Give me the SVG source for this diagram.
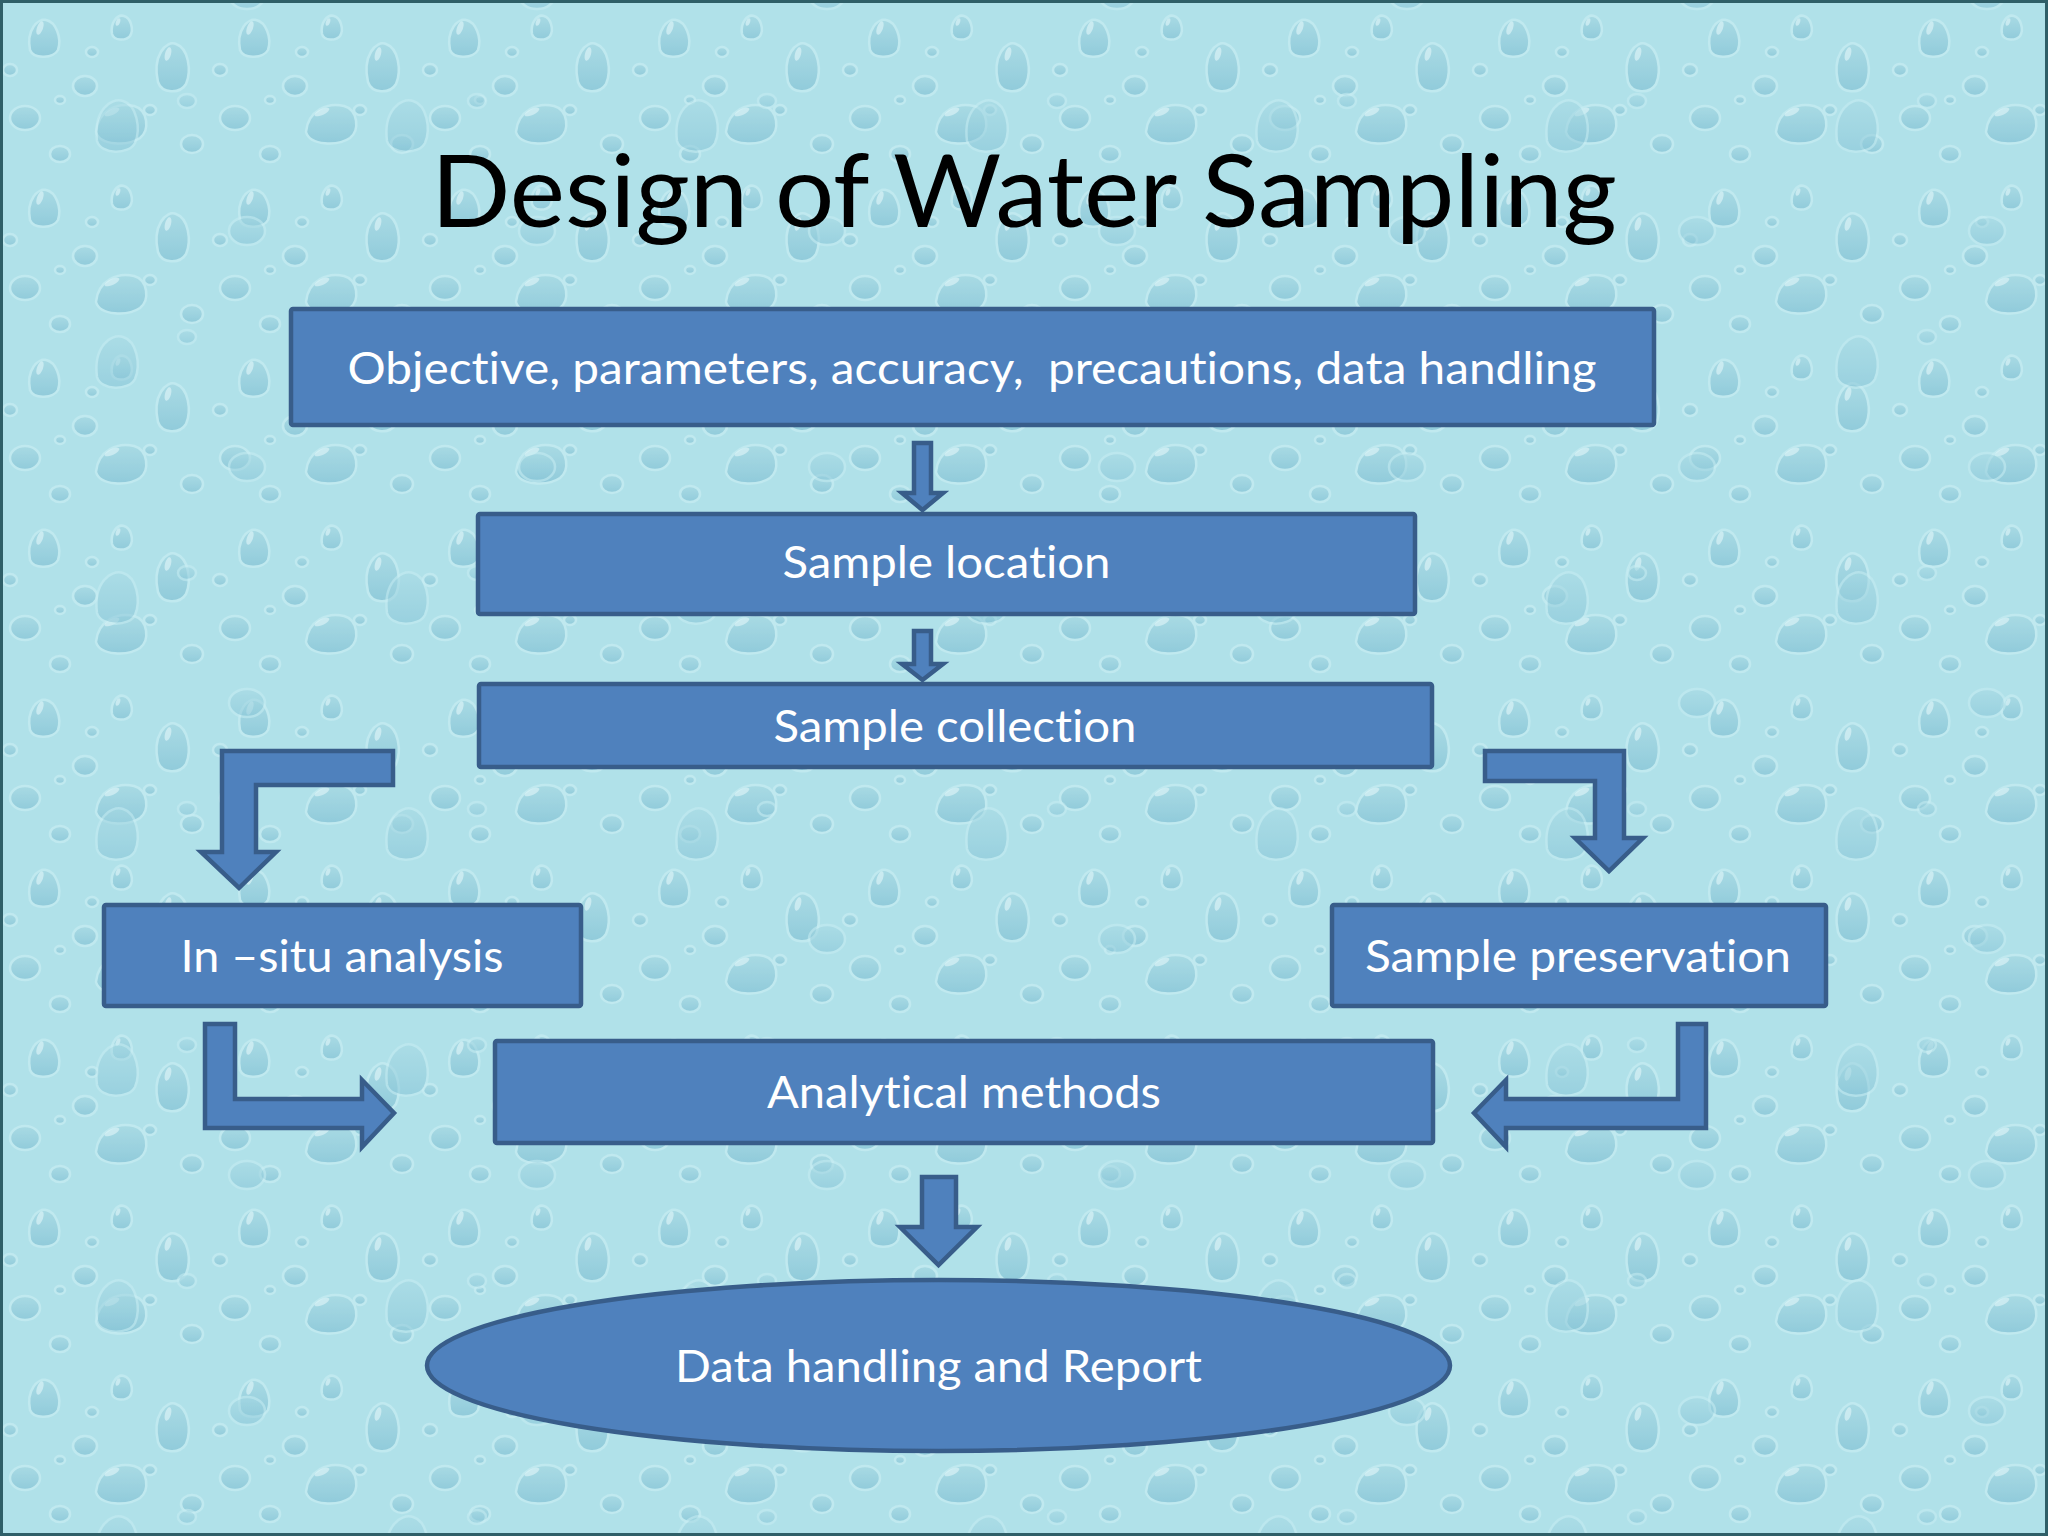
<svg xmlns="http://www.w3.org/2000/svg" width="2048" height="1536" viewBox="0 0 2048 1536">
  <style>
    .box { fill: #4f81bd; stroke: #385d8a; stroke-width: 4.5; }
    .arrow { fill: #4f81bd; stroke: #385d8a; stroke-width: 4.5; stroke-linejoin: miter; }
    .label { font-family: Lato, "Open Sans", "Liberation Sans", sans-serif; font-size: 45px; fill: #ffffff; text-anchor: middle; white-space: pre; font-variant-ligatures: none; }
    .title { font-family: Lato, "Open Sans", "Liberation Sans", sans-serif; font-size: 100px; fill: #000000; text-anchor: middle; font-variant-ligatures: none; }
  </style>
  <defs>
    <linearGradient id="dropGrad" x1="0" y1="0" x2="0" y2="1">
      <stop offset="0" stop-color="#a6d9e3"/>
      <stop offset="0.6" stop-color="#94cddc"/>
      <stop offset="1" stop-color="#86c4d6"/>
    </linearGradient>
    <pattern id="drops" x="0" y="0" width="210" height="170" patternUnits="userSpaceOnUse">
      <rect width="210" height="170" fill="#b0e1e9"/>
      <g fill="url(#dropGrad)" stroke="#c6ecf2" stroke-width="2.5" opacity="0.75">
        <path d="M30,50 C26,30 38,18 46,20 C56,22 62,38 58,50 C54,58 34,60 30,50 Z"/>
        <path d="M112,34 C110,22 118,14 124,16 C131,18 134,30 130,36 C126,41 114,41 112,34 Z"/>
        <path d="M158,82 C152,56 166,40 176,44 C188,48 192,70 186,84 C180,94 162,94 158,82 Z"/>
        <ellipse cx="85" cy="86" rx="12" ry="10"/>
        <ellipse cx="25" cy="118" rx="15" ry="12"/>
        <path d="M96,132 C98,110 118,102 134,106 C148,110 150,130 140,138 C128,146 100,146 96,132 Z"/>
        <ellipse cx="192" cy="144" rx="11" ry="9"/>
        <ellipse cx="60" cy="154" rx="10" ry="8"/>
        <ellipse cx="150" cy="110" rx="6" ry="5"/>
        <ellipse cx="10" cy="70" rx="7" ry="6"/>
        <ellipse cx="92" cy="52" rx="6" ry="5"/>
        <ellipse cx="60" cy="100" rx="5" ry="4"/>
      </g>
      <g fill="#e3f6fa" opacity="0.6">
        <ellipse cx="40" cy="28" rx="3" ry="7" transform="rotate(20 40 28)"/>
        <ellipse cx="112" cy="112" rx="8" ry="3" transform="rotate(-25 112 112)"/>
        <ellipse cx="168" cy="54" rx="3" ry="7" transform="rotate(15 168 54)"/>
        <ellipse cx="118" cy="22" rx="2" ry="4" transform="rotate(20 118 22)"/>
      </g>
    </pattern>
    <pattern id="drops2" x="37" y="61" width="290" height="236" patternUnits="userSpaceOnUse">
      <g fill="url(#dropGrad)" stroke="#c6ecf2" stroke-width="2.5" opacity="0.55">
        <path d="M60,80 C56,50 74,36 86,40 C100,44 104,68 98,82 C92,94 64,94 60,80 Z"/>
        <ellipse cx="210" cy="170" rx="18" ry="14"/>
        <ellipse cx="150" cy="40" rx="9" ry="7"/>
      </g>
    </pattern>
  </defs>

  <rect x="0" y="0" width="2048" height="1536" fill="url(#drops)"/>
  <rect x="0" y="0" width="2048" height="1536" fill="url(#drops2)"/>
  <rect x="1.5" y="1.5" width="2045" height="1533" fill="none" stroke="#2f5f68" stroke-width="3"/>

  <g id="title">
    <text class="title" x="1024" y="227" textLength="1186" lengthAdjust="spacingAndGlyphs">Design of Water Sampling</text>
  </g>

  <g id="connectors">
    <polygon class="arrow" points="914,443 931,443 931,493 943,493 922.5,510 902,493 914,493"/>
    <polygon class="arrow" points="914,631 931,631 931,664 943,664 922.5,680 902,664 914,664"/>
    <polygon class="arrow" points="222,751 393,751 393,785 256,785 256,852 276,852 239,888 201,852 222,852"/>
    <polygon class="arrow" points="1485,751 1624,751 1624,838 1643,838 1609,871 1575,838 1595,838 1595,781 1485,781"/>
    <polygon class="arrow" points="205,1024 235,1024 235,1099 362,1099 362,1080 394,1113 362,1147 362,1128 205,1128"/>
    <polygon class="arrow" points="1706,1024 1678,1024 1678,1099 1506,1099 1506,1080 1474,1113 1506,1147 1506,1128 1706,1128"/>
    <polygon class="arrow" points="922,1177 956,1177 956,1227 977,1227 938.5,1265 900,1227 922,1227"/>
  </g>

  <g id="node-objective">
    <rect class="box" x="291" y="309" width="1363" height="116" rx="2"/>
    <text class="label" x="972" y="384" textLength="1249" lengthAdjust="spacingAndGlyphs">Objective, parameters, accuracy,  precautions, data handling</text>
  </g>
  <g id="node-location">
    <rect class="box" x="478" y="514" width="937" height="100" rx="2"/>
    <text class="label" x="946.5" y="578" textLength="328" lengthAdjust="spacingAndGlyphs">Sample location</text>
  </g>
  <g id="node-collection">
    <rect class="box" x="479" y="684" width="953" height="83" rx="2"/>
    <text class="label" x="955" y="742" textLength="363" lengthAdjust="spacingAndGlyphs">Sample collection</text>
  </g>
  <g id="node-insitu">
    <rect class="box" x="104" y="905" width="477" height="101" rx="2"/>
    <text class="label" x="342" y="972" textLength="323" lengthAdjust="spacingAndGlyphs">In –situ analysis</text>
  </g>
  <g id="node-preservation">
    <rect class="box" x="1332" y="905" width="494" height="101" rx="2"/>
    <text class="label" x="1578" y="972" textLength="426" lengthAdjust="spacingAndGlyphs">Sample preservation</text>
  </g>
  <g id="node-analytical">
    <rect class="box" x="495" y="1041" width="938" height="102" rx="2"/>
    <text class="label" x="964" y="1108" textLength="394" lengthAdjust="spacingAndGlyphs">Analytical methods</text>
  </g>
  <g id="node-report">
    <ellipse class="box" cx="938.5" cy="1365.5" rx="511.5" ry="85.5"/>
    <text class="label" x="938.5" y="1382" textLength="527" lengthAdjust="spacingAndGlyphs">Data handling and Report</text>
  </g>
</svg>
